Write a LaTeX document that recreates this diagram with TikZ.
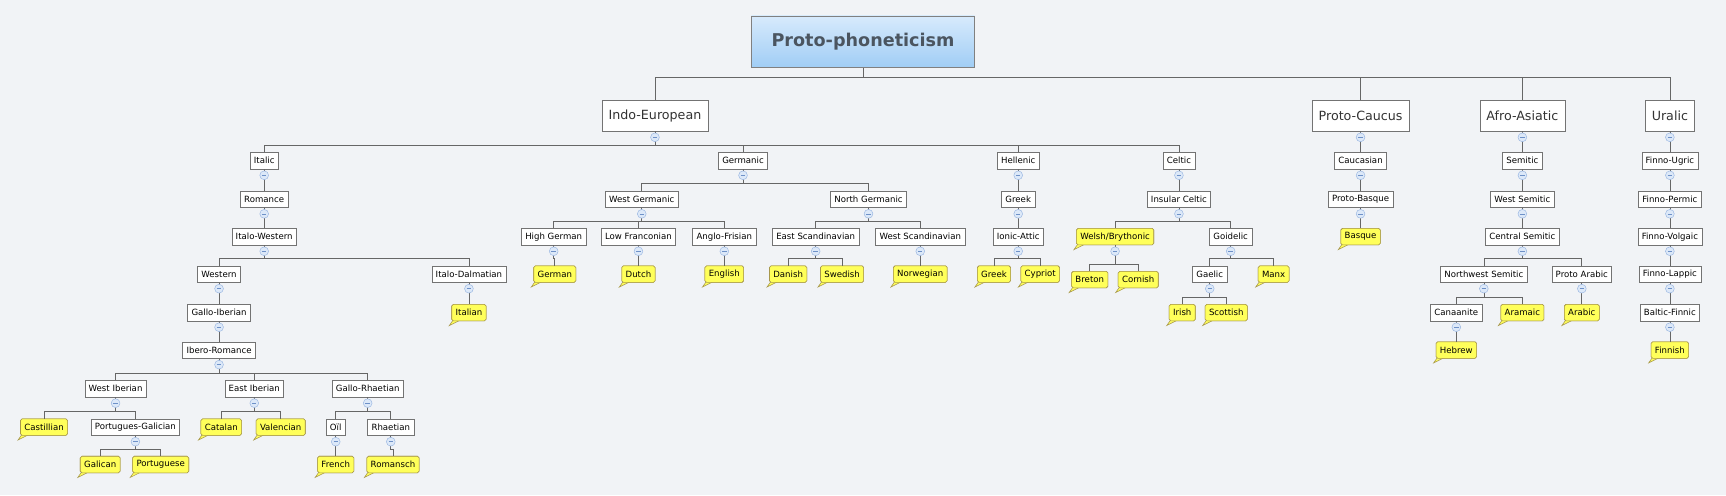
\documentclass[tikz,border=0pt]{standalone}
\usepackage{fontspec}
\setmainfont{DejaVu Sans}
\begin{document}
\begin{tikzpicture}[x=1pt,y=-1pt,
  box/.style={draw=black!55,fill=white,font=\fontsize{7.8}{9}\selectfont,inner xsep=3.5pt,inner ysep=0pt,minimum height=15pt,line width=0.5pt},
  ybox/.style={draw=black!45!yellow!70!brown,fill={rgb,255:red,255;green,255;blue,90},rounded corners=1.5pt,font=\fontsize{7.8}{9}\selectfont,inner xsep=3.5pt,inner ysep=0pt,minimum height=15pt,line width=0.5pt},
  lone/.style={draw=black!55,fill=white,text=black!80,font=\fontsize{11.5}{13}\selectfont,inner xsep=6pt,minimum height=28pt,line width=0.5pt},
  conn/.style={draw=black!60,line width=0.6pt}]
\fill[color={rgb,255:red,241;green,243;blue,246}] (0,0) rectangle (1568,450);
\useasboundingbox (0,0) rectangle (1568,450);
\newcommand\bx[4]{\node[box] (#1) at (#2,#3) {#4};}
% root
\node[draw=black!50,line width=0.6pt,minimum width=203pt,minimum height=47pt,
  top color={rgb,255:red,215;green,234;blue,252},bottom color={rgb,255:red,160;green,205;blue,245},
  text={rgb,255:red,75;green,85;blue,96},font=\fontsize{16}{18}\bfseries] (root) at (784,38) {Proto-phoneticism};
\node[lone] (ie) at (595,105) {Indo-European};
\node[lone] (pc) at (1236,105) {Proto-Caucus};
\node[lone] (aa) at (1383,105) {Afro-Asiatic};
\node[lone] (ur) at (1517,105) {Uralic};
% Indo-European
\bx{ita}{240}{146}{Italic}\bx{ger}{675}{146}{Germanic}\bx{hel}{925}{146}{Hellenic}\bx{cel}{1071}{146}{Celtic}
\bx{rom}{240}{181}{Romance}\bx{iw}{240}{215}{Italo-Western}
\bx{wes}{199}{249}{Western}\bx{id}{426}{249}{Italo-Dalmatian}
\bx{gi}{199}{284}{Gallo-Iberian}\bx{ir}{199}{318}{Ibero-Romance}
\bx{wi}{105}{353}{West Iberian}\bx{ei}{231}{353}{East Iberian}\bx{gr}{334}{353}{Gallo-Rhaetian}
\bx{pg}{123}{388}{Portugues-Galician}
\bx{oil}{305}{388}{Oïl}\bx{rh}{355}{388}{Rhaetian}
\bx{wg}{583}{181}{West Germanic}\bx{ng}{789}{181}{North Germanic}
\bx{hg}{503}{215}{High German}\bx{lf}{580}{215}{Low Franconian}\bx{af}{658}{215}{Anglo-Frisian}
\bx{es}{741}{215}{East Scandinavian}\bx{ws}{836}{215}{West Scandinavian}
\bx{grk}{925}{181}{Greek}\bx{ia}{925}{215}{Ionic-Attic}
\bx{ic}{1071}{181}{Insular Celtic}\bx{goi}{1118}{215}{Goidelic}\bx{gae}{1099}{249}{Gaelic}
\bx{cau}{1236}{146}{Caucasian}\bx{pb}{1236}{181}{Proto-Basque}
\bx{sem}{1383}{146}{Semitic}\bx{wsem}{1383}{181}{West Semitic}\bx{cs}{1383}{215}{Central Semitic}
\bx{nws}{1348}{249}{Northwest Semitic}\bx{pa}{1437}{249}{Proto Arabic}\bx{can}{1323}{284}{Canaanite}
\bx{fu}{1517}{146}{Finno-Ugric}\bx{fp}{1517}{181}{Finno-Permic}\bx{fv}{1517}{215}{Finno-Volgaic}
\bx{fl}{1517}{249}{Finno-Lappic}\bx{bf}{1517}{284}{Baltic-Finnic}
% yellow callouts
\foreach \n/\x/\y/\t in {cas/40/388/Castillian, gal/91/422/Galican, por/146/422/Portuguese,
  cat/201/388/Catalan, val/255/388/Valencian, fre/305/422/French, rms/357/422/Romansch,
  itl/426/284/Italian, dgerm/504/249/German, dut/580/249/Dutch, eng/658/249/English,
  dan/716/249/Danish, swe/765/249/Swedish, nor/836/249/Norwegian, gk/903/249/Greek, cyp/945/249/Cypriot,
  wb/1013/215/{Welsh/Brythonic}, bre/990/254/Breton, cor/1034/254/Cornish, man/1157/249/Manx,
  iri/1074/284/Irish, sco/1114/284/Scottish, bas/1236/215/Basque, ara/1383/284/Aramaic,
  heb/1323/318/Hebrew, arb/1437/284/Arabic, fin/1517/318/Finnish}
{ \node[ybox] (\n) at (\x,\y) {\t};
  \fill[fill={rgb,255:red,255;green,255;blue,90},draw=black!45!yellow!70!brown,line width=0.5pt]
    ([xshift=1.5pt,yshift=1pt]\n.south west) -- ++(-3.5,5) -- ++(10,-5) -- cycle;
  \node[ybox] (\n) at (\x,\y) {\t}; }
% connectors
\draw[conn] (root.south) |- ([yshift=-8pt]root.south) -| (ie.north);
\foreach \c in {pc,aa,ur} \draw[conn] ([yshift=-8pt]root.south) -| (\c.north);
\foreach \p/\c in {ie/ita,ie/ger,ie/hel,ie/cel,ita/rom,rom/iw,iw/wes,iw/id,wes/gi,gi/ir,ir/wi,ir/ei,ir/gr,
  wi/cas,wi/pg,pg/gal,pg/por,ei/cat,ei/val,gr/oil,gr/rh,oil/fre,rh/rms,id/itl,
  ger/wg,ger/ng,wg/hg,wg/lf,wg/af,hg/dgerm,lf/dut,af/eng,ng/es,ng/ws,es/dan,es/swe,ws/nor,
  hel/grk,grk/ia,ia/gk,ia/cyp,cel/ic,ic/wb,ic/goi,wb/bre,wb/cor,goi/gae,goi/man,gae/iri,gae/sco,
  pc/cau,cau/pb,pb/bas,aa/sem,sem/wsem,wsem/cs,cs/nws,cs/pa,nws/can,nws/ara,can/heb,pa/arb,
  ur/fu,fu/fp,fp/fv,fv/fl,fl/bf,bf/fin}
  \draw[conn] (\p.south) |- ([yshift=6.5pt]\c.north) -- (\c.north);
% collapse circles
\foreach \p in {ie,pc,aa,ur,ita,ger,hel,cel,rom,iw,wes,id,gi,ir,wi,ei,gr,pg,oil,rh,wg,ng,hg,lf,af,es,ws,
  grk,ia,ic,wb,goi,gae,cau,pb,sem,wsem,cs,nws,pa,can,fu,fp,fv,fl,bf}
{ \draw[draw={rgb,255:red,150;green,180;blue,225},fill={rgb,255:red,220;green,232;blue,248},line width=0.4pt]
    ([yshift=-5.5pt]\p.south) circle (4);
  \draw[draw={rgb,255:red,110;green,145;blue,200},line width=0.5pt]
    ([yshift=-5.5pt,xshift=-2pt]\p.south) -- ([yshift=-5.5pt,xshift=2pt]\p.south); }
\end{tikzpicture}
\end{document}
